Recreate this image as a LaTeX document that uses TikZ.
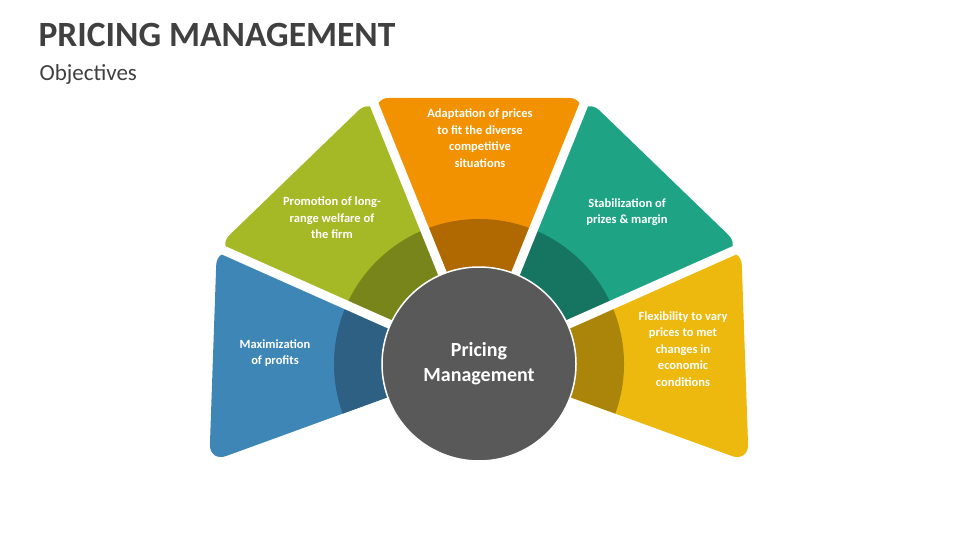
\documentclass[tikz,border=0pt]{standalone}
\usepackage{fontspec}
\setmainfont{Carlito}
\begin{document}
\begin{tikzpicture}[x=1pt,y=-1pt,
  lbl/.style={text=white,align=center,font=\bfseries\fontsize{12.5}{16.5}\selectfont},
  gap/.style={white,line width=9pt}]
\useasboundingbox (0,0) rectangle (960,540);
\definecolor{cblue}{HTML}{3E86B5}
\definecolor{cgreen}{HTML}{A5B825}
\definecolor{corange}{HTML}{F39200}
\definecolor{cteal}{HTML}{1FA385}
\definecolor{cyell}{HTML}{EDB90E}
\coordinate (c) at (479,364);
\def\R{287}
\foreach \a/\col in {178/cblue,134/cgreen,90/corange,46/cteal,2/cyell}{
  \pgfmathsetmacro{\xa}{479+\R*cos(\a-22)}\pgfmathsetmacro{\ya}{364-\R*sin(\a-22)}
  \pgfmathsetmacro{\xb}{479+\R*cos(\a+22)}\pgfmathsetmacro{\yb}{364-\R*sin(\a+22)}
  \fill[\col,rounded corners=18pt] (c) -- (\xa,\ya) -- (\xb,\yb) -- cycle;
  \begin{scope}
    \clip (c) circle (145);
    \fill[\col!72!black] (c) -- (\xa,\ya) -- (\xb,\yb) -- cycle;
  \end{scope}
}
\foreach \g in {156,112,68,24}{
  \pgfmathsetmacro{\xg}{479+320*cos(\g)}\pgfmathsetmacro{\yg}{364-320*sin(\g)}
  \draw[gap] (c) -- (\xg,\yg);
}
\node[circle,minimum size=194pt,fill=black!65,draw=white,line width=1.5pt] (hub) at (c) {};
\node[text=white,align=center,font=\bfseries\fontsize{20}{25}\selectfont] (ht) at (c) {Pricing\\Management};
\node[lbl] (t1) at (275,353) {Maximization\\of profits};
\node[lbl] (t2) at (332,218) {Promotion of long-\\range welfare of\\the firm};
\node[lbl] (t3) at (480,138) {Adaptation of prices\\to fit the diverse\\competitive\\situations};
\node[lbl] (t4) at (627,212) {Stabilization of\\prizes \& margin};
\node[lbl] (t5) at (683,349) {Flexibility to vary\\prices to met\\changes in\\economic\\conditions};
\node[anchor=west,text=black!75,font=\bfseries\fontsize{35.5}{38}\selectfont] (title) at (35,35) {PRICING MANAGEMENT};
\node[anchor=west,text=black!75,font=\fontsize{23}{26}\selectfont] (sub) at (36,74) {Objectives};
\end{tikzpicture}
\end{document}
